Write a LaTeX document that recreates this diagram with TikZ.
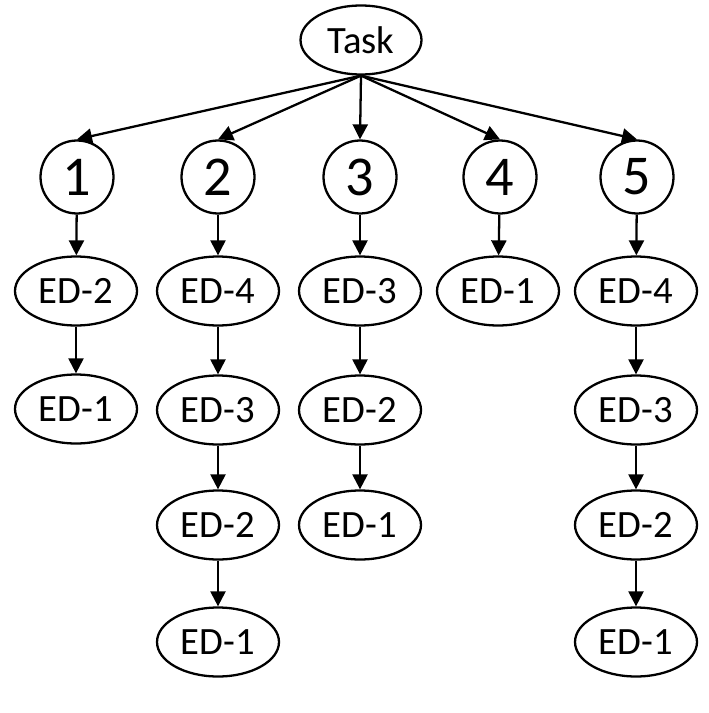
\documentclass[tikz,border=0pt]{standalone}
\usepackage{fontspec}
\setmainfont{Carlito}
\usetikzlibrary{shapes.geometric,arrows.meta}
\tikzset{
  task/.style = {ellipse, draw, line width=1.3pt, minimum width=2.42cm, minimum height=1.38cm, inner sep=0, font=\fontsize{22}{26}\selectfont},
  num/.style  = {circle, draw, line width=1.3pt, minimum size=1.46cm, inner sep=0, font=\fontsize{32}{36}\selectfont},
  ed/.style   = {ellipse, draw, line width=1.3pt, minimum width=2.44cm, minimum height=1.38cm, inner sep=0, font=\fontsize{22}{26}\selectfont},
  link/.style = {line width=1.3pt, -{Triangle[length=0.3cm,width=0.3cm]}}
}
\begin{document}
\begin{tikzpicture}[x=0.02cm,y=-0.02cm]
  \useasboundingbox (0,0) rectangle (708,713);
  \node[task] (T) at (361,40) {Task};

  \node[num] (n1) at (77,177)  {1};
  \node[num] (n2) at (218,177) {2};
  \node[num] (n3) at (360,177) {3};
  \node[num] (n4) at (500,177) {4};
  \node[num] (n5) at (637,177) {5};
  \foreach \i in {1,...,5} \draw[link] (T.south) -- (n\i.north);

  % column 1
  \node[ed] (a1) at (76,291) {ED-2};  \draw[link] (n1) -- (a1);
  \node[ed] (a2) at (76,409) {ED-1};  \draw[link] (a1) -- (a2);

  % column 2
  \node[ed] (b1) at (218,291) {ED-4}; \draw[link] (n2) -- (b1);
  \node[ed] (b2) at (218,410) {ED-3}; \draw[link] (b1) -- (b2);
  \node[ed] (b3) at (218,525) {ED-2}; \draw[link] (b2) -- (b3);
  \node[ed] (b4) at (218,642) {ED-1}; \draw[link] (b3) -- (b4);

  % column 3
  \node[ed] (c1) at (360,291) {ED-3}; \draw[link] (n3) -- (c1);
  \node[ed] (c2) at (360,410) {ED-2}; \draw[link] (c1) -- (c2);
  \node[ed] (c3) at (360,525) {ED-1}; \draw[link] (c2) -- (c3);

  % column 4
  \node[ed] (d1) at (498,291) {ED-1}; \draw[link] (n4) -- (d1);

  % column 5
  \node[ed] (e1) at (636,291) {ED-4}; \draw[link] (n5) -- (e1);
  \node[ed] (e2) at (636,410) {ED-3}; \draw[link] (e1) -- (e2);
  \node[ed] (e3) at (636,525) {ED-2}; \draw[link] (e2) -- (e3);
  \node[ed] (e4) at (636,642) {ED-1}; \draw[link] (e3) -- (e4);
\end{tikzpicture}
\end{document}
